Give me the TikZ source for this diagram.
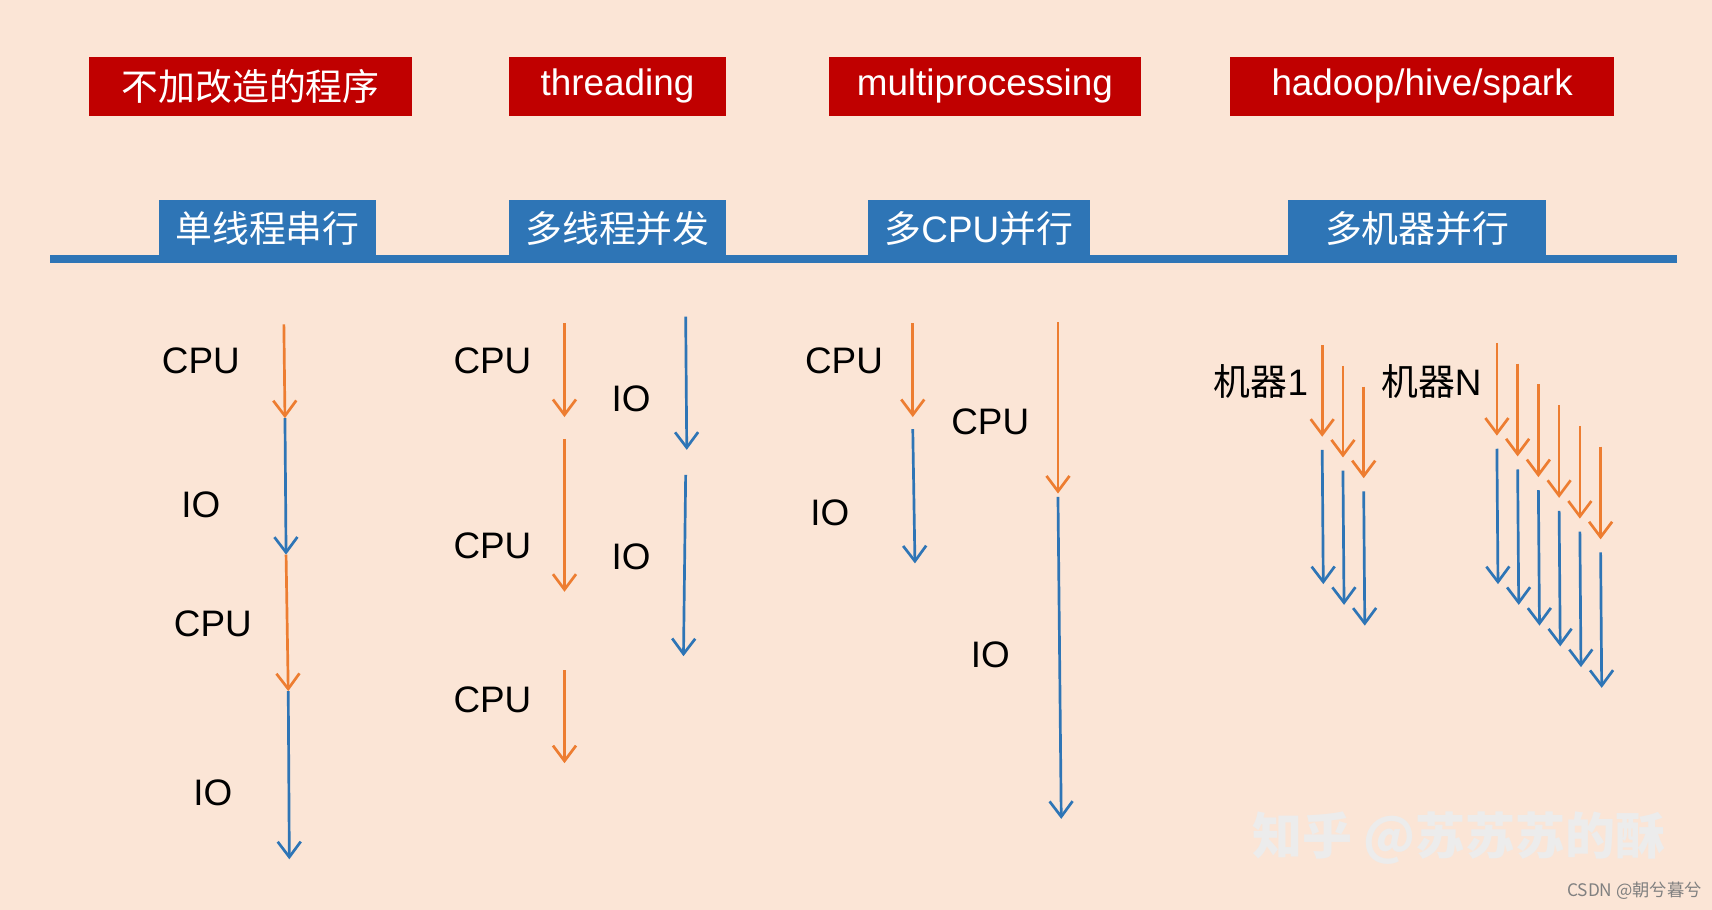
\documentclass[tikz,border=0pt]{standalone}
\usepackage{fontspec}
\setmainfont{Liberation Sans}
\newfontfamily\cjk{Noto Sans CJK SC}
\usetikzlibrary{positioning,arrows.meta}
\definecolor{peach}{HTML}{FBE5D6}
\definecolor{boxred}{HTML}{C00000}
\definecolor{boxblue}{HTML}{2E75B6}
\definecolor{cpuorange}{HTML}{ED7D31}
\tikzset{
  title/.style={fill=boxred, text=white, inner sep=0pt, font=\fontsize{9.6}{11}\selectfont},
  mode/.style={fill=boxblue, text=white, inner sep=0pt, font=\fontsize{9.6}{11}\selectfont},
  lbl/.style={font=\fontsize{9.6}{11}\selectfont},
  cpu/.style={cpuorange, line width=0.7pt, ->, >={Straight Barb[length=4pt,width=6pt]}},
  io/.style={boxblue, line width=0.7pt, ->, >={Straight Barb[length=4pt,width=6pt]}}
}
\begin{document}
\begin{tikzpicture}[x=0.01cm, y=-0.01cm]
        \fill [peach] (0,0) rectangle (1568,833);                   % background
        \useasboundingbox (0,0) rectangle (1568,833);
        % tool boxes
        \node [title, minimum width=2.95cm, minimum height=0.54cm] (t1) at (229.5,79) {\cjk 不加改造的程序};
        \node [title, minimum width=1.99cm, minimum height=0.54cm] (t2) at (565.5,79) {threading};
        \node [title, minimum width=2.86cm, minimum height=0.54cm] (t3) at (902,79)   {multiprocessing};
        \node [title, minimum width=3.51cm, minimum height=0.54cm] (t4) at (1302.5,79){hadoop/hive/spark};
        % mode boxes
        \node [mode, minimum width=1.98cm, minimum height=0.53cm] (m1) at (245,209.5)  {\cjk 单线程串行};
        \node [mode, minimum width=1.99cm, minimum height=0.53cm] (m2) at (565.5,209.5){\cjk 多线程并发};
        \node [mode, minimum width=2.03cm, minimum height=0.53cm] (m3) at (896.5,209.5){{\cjk 多}CPU{\cjk 并行}};
        \node [mode, minimum width=2.36cm, minimum height=0.53cm] (m4) at (1298,209.5) {\cjk 多机器并行};
        \draw [boxblue, line width=2pt] (46,237) -- (1536,237);      % axis

        % serial
        \draw [cpu] (260,297) -- (261,383);
        \draw [io]  (261,383) -- (262,508);
        \draw [cpu] (262,508) -- (264,633);
        \draw [io]  (264,633) -- (265,787);
        \node [lbl] (s1) at (184,330) {CPU};
        \node [lbl] (s2) at (184,462) {IO};
        \node [lbl] (s3) at (195,571) {CPU};
        \node [lbl] (s4) at (195,726) {IO};

        % threading
        \draw [cpu] (517,296) -- (517,382);
        \draw [cpu] (517,402) -- (517,542);
        \draw [cpu] (517,614) -- (517,699);
        \draw [io]  (628,290) -- (629,412);
        \draw [io]  (628,435) -- (626,601);
        \node [lbl] (a1) at (451,330) {CPU};
        \node [lbl] (a2) at (578,365) {IO};
        \node [lbl] (a3) at (451,500) {CPU};
        \node [lbl] (a4) at (578,510) {IO};
        \node [lbl] (a5) at (451,641) {CPU};

        % multiprocessing
        \draw [cpu] (836,296) -- (836,382);
        \draw [io]  (836,393) -- (838,516);
        \draw [cpu] (969,295) -- (969,452);
        \draw [io]  (969,455) -- (972,750);
        \node [lbl] (b1) at (773,330) {CPU};
        \node [lbl] (b2) at (760,470) {IO};
        \node [lbl] (b3) at (907,386) {CPU};
        \node [lbl] (b4) at (907,600) {IO};

        % cluster
        \foreach \i in {0,1,2}{
          \draw [cpu] (1211+19*\i,316+19*\i) -- (1211+19*\i,400+19*\i);
          \draw [io]  (1211+19*\i,412+19*\i) -- (1212+19*\i,535+19*\i);
        }
        \foreach \i in {0,...,5}{
          \draw [cpu] (1371+19*\i,314+19*\i) -- (1371+19*\i,399+19*\i);
          \draw [io]  (1371+19*\i,411+19*\i) -- (1372+19*\i,535+19*\i);
        }
        \node [lbl] (c1) at (1155,349) {{\cjk 机器}1};
        \node [lbl] (c2) at (1311,349) {{\cjk 机器}N};

        % watermarks
        \node [font=\cjk\fontsize{13}{15}\selectfont\bfseries, text=white!85!gray] (w1) at (1336,768) {知乎 @苏苏苏的酥};
        \node [font=\cjk\fontsize{4.5}{5}\selectfont, text=gray] (w2) at (1497,816) {CSDN @朝兮暮兮};
\end{tikzpicture}
\end{document}
